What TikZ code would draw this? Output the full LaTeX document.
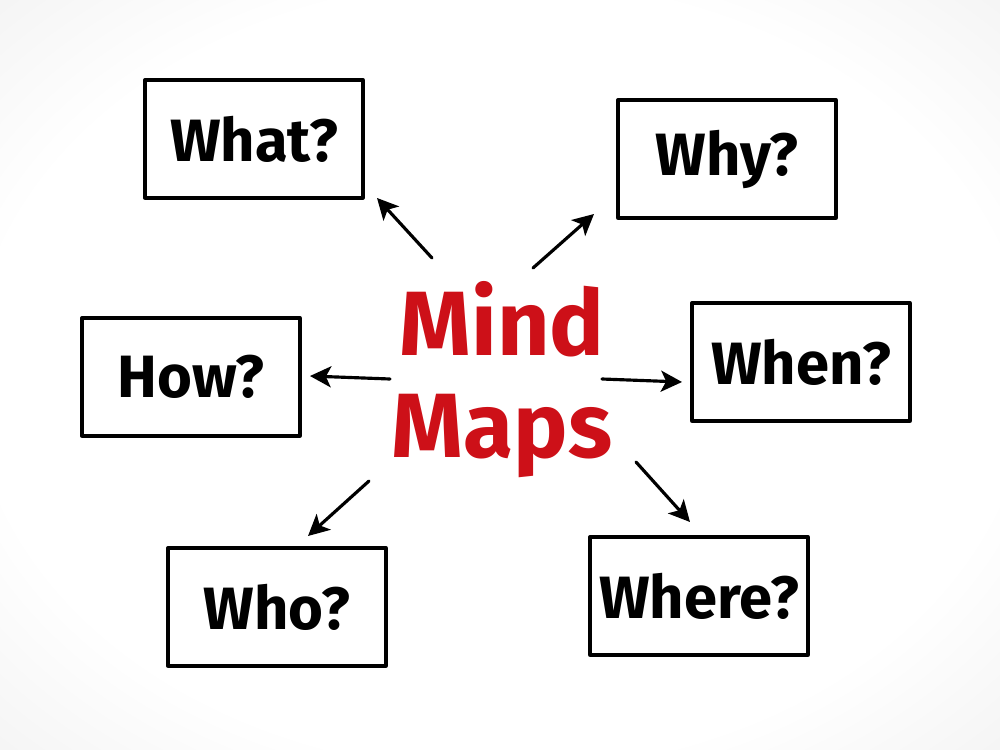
\documentclass[tikz,border=0pt]{standalone}
\usepackage{fontspec}
\setmainfont{Fira Sans}
\usepackage{xcolor}
\usepackage{tikz}
\usetikzlibrary{arrows.meta}

\definecolor{mapred}{RGB}{205,16,24}
\pgfdeclareradialshading{vignette}{\pgfpoint{0bp}{0bp}}{color(0bp)=(white); color(26bp)=(white); color(40bp)=(black!6); color(50bp)=(black!11); color(71bp)=(black!24)}

\begin{document}
\begin{tikzpicture}[x=0.02cm, y=-0.02cm]
			\tikzstyle{qbox}=[draw, line width=1.9pt, line join=round, minimum width=4.36cm, minimum height=2.36cm, inner sep=0pt, font=\fontsize{34}{40}\selectfont\bfseries];
			\tikzstyle{qarrow}=[line width=1.8pt, line cap=round, -{Stealth[length=12pt, width=12pt, inset=3pt]}];
			
			%Background
			\shade[shading=vignette] (0, 0) rectangle (1000, 750);
			\useasboundingbox (0, 0) rectangle (1000, 750);
			
			%Centre
			\node[mapred, align=center, font=\fontsize{52}{58}\selectfont\bfseries] (centre) at (502, 380) {Mind\\Maps};
			
			%Questions
			\node[qbox] (what) at (254, 139) {What?};
			\node[qbox] (why) at (727, 159) {Why?};
			\node[qbox] (how) at (191, 377) {How?};
			\node[qbox] (when) at (801, 362) {When?};
			\node[qbox] (who) at (277, 607) {Who?};
			\node[qbox] (where) at (699, 596) {Where?};
			
			%Arrow ends
			\coordinate (what-tail) at (432, 258);
			\coordinate (what-tip) at (377, 198);
			\coordinate (why-tail) at (533, 268);
			\coordinate (why-tip) at (594, 214);
			\coordinate (how-tail) at (390, 379);
			\coordinate (how-tip) at (310, 376);
			\coordinate (when-tail) at (602, 379);
			\coordinate (when-tip) at (682, 382);
			\coordinate (who-tail) at (369, 481);
			\coordinate (who-tip) at (308, 536);
			\coordinate (where-tail) at (636, 462);
			\coordinate (where-tip) at (690, 522);
			
			%Arrows
			\draw[qarrow] (what-tail) -- (what-tip);
			\draw[qarrow] (why-tail) -- (why-tip);
			\draw[qarrow] (how-tail) -- (how-tip);
			\draw[qarrow] (when-tail) -- (when-tip);
			\draw[qarrow] (who-tail) -- (who-tip);
			\draw[qarrow] (where-tail) -- (where-tip);
\end{tikzpicture}
\end{document}
